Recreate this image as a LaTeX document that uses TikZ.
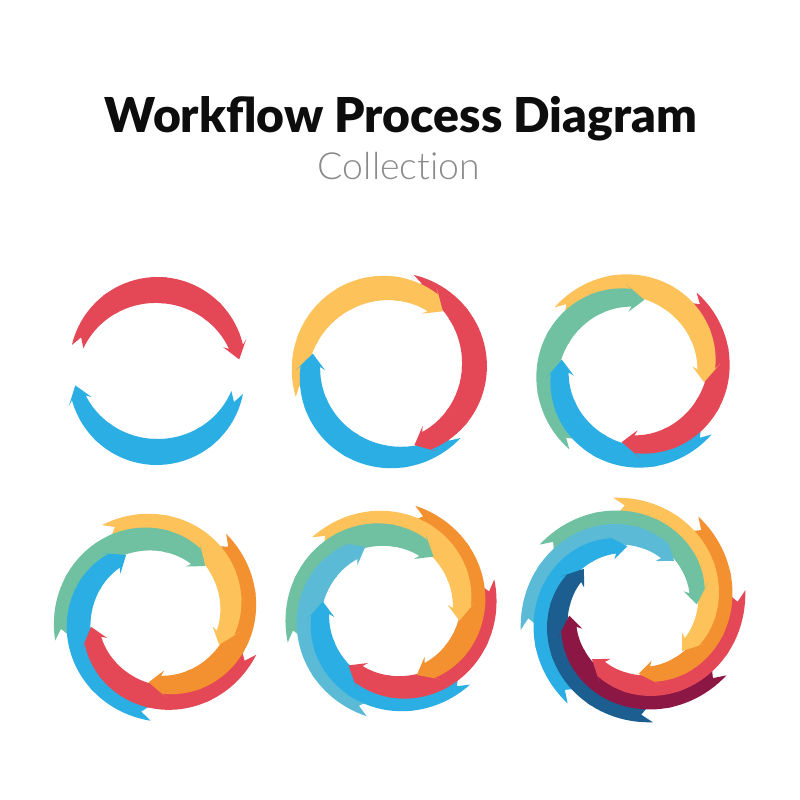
\documentclass[tikz,border=0pt]{standalone}
\usepackage{fontspec}
\setmainfont{Lato}
\newfontfamily\titlefont{Lato Black}
\newfontfamily\subfont{Lato Light}[Ligatures={NoCommon,NoContextual}]
\usepackage{graphicx}
\definecolor{cRed}{HTML}{E44856}
\definecolor{cBlue}{HTML}{2AAEE3}
\definecolor{cYellow}{HTML}{FDC25A}
\definecolor{cGreen}{HTML}{6FC1A2}
\definecolor{cOrange}{HTML}{F3902F}
\definecolor{cLBlue}{HTML}{5BBBD6}
\definecolor{cDBlue}{HTML}{1B5E8F}
\definecolor{cCrimson}{HTML}{8C1744}
\definecolor{cSub}{HTML}{8A8A8A}
\def\hlen{13}\def\nlen{10}\def\barb{5}\def\bkl{4}
\newcommand\ringgeom[9]{\def\qX{#1}\def\qY{#2}\def\qOa{#3}\def\qOb{#4}\def\qOc{#5}\def\qIa{#6}\def\qIb{#7}\def\qIc{#8}\def\qS{#9}}
\newcommand\arrowpiece[2]{%
  \pgfmathsetmacro\tH{1-\hlen*57.2958/(\qS*0.5*(\qOb+\qIb))}%
  \pgfmathsetmacro\tN{\nlen*57.2958/(\qS*0.5*(\qOa+\qIa))}%
  \ifcase#1\relax\or
    \pgfmathsetmacro\nA{cth(\tN)}\pgfmathsetmacro\nR{0.5*(\qOa+\qIa)}%
    \fill[fill=#2] plot[domain=0:0.26,samples=14,variable=\t] ({\qX+cro(\t)*cos(cth(\t))},{\qY+cro(\t)*sin(cth(\t))})
      -- plot[domain=0.26:0,samples=14,variable=\t] ({\qX+cri(\t)*cos(cth(\t))},{\qY+cri(\t)*sin(cth(\t))})
      -- ({\qX+\nR*cos(\nA)},{\qY+\nR*sin(\nA)}) -- cycle;
  \or
    \fill[fill=#2] plot[domain=0.24:0.51,samples=14,variable=\t] ({\qX+cro(\t)*cos(cth(\t))},{\qY+cro(\t)*sin(cth(\t))})
      -- plot[domain=0.51:0.24,samples=14,variable=\t] ({\qX+cri(\t)*cos(cth(\t))},{\qY+cri(\t)*sin(cth(\t))}) -- cycle;
  \or
    \fill[fill=#2] plot[domain=0.49:0.76,samples=14,variable=\t] ({\qX+cro(\t)*cos(cth(\t))},{\qY+cro(\t)*sin(cth(\t))})
      -- plot[domain=0.76:0.49,samples=14,variable=\t] ({\qX+cri(\t)*cos(cth(\t))},{\qY+cri(\t)*sin(cth(\t))}) -- cycle;
  \or
    \pgfmathsetmacro\hO{cro(\tH)+\barb}%
    \pgfmathsetmacro\hI{cri(\tH)-\barb}%
    \pgfmathsetmacro\hB{cth(\tH)+\bkl*57.2958/(0.5*(\qOb+\qIb))}%
    \pgfmathsetmacro\tipA{\qT-\qS}%
    \pgfmathsetmacro\tipR{0.5*(\qOb+\qIb)}%
    \fill[fill=#2] plot[domain=0.74:\tH,samples=14,variable=\t] ({\qX+cro(\t)*cos(cth(\t))},{\qY+cro(\t)*sin(cth(\t))})
      -- ({\qX+\hO*cos(\hB)},{\qY+\hO*sin(\hB)})
      -- ({\qX+\tipR*cos(\tipA)},{\qY+\tipR*sin(\tipA)})
      -- ({\qX+\hI*cos(\hB)},{\qY+\hI*sin(\hB)})
      -- plot[domain=\tH:0.74,samples=14,variable=\t] ({\qX+cri(\t)*cos(cth(\t))},{\qY+cri(\t)*sin(cth(\t))}) -- cycle;
  \fi}
\newcommand\ringdraw[1]{\foreach \lay in {1,2,3,4}{\foreach \qT/\col in {#1}{\arrowpiece{\lay}{\col}}}}
\begin{document}
\begin{tikzpicture}[x=1pt,y=1pt,
  declare function={
    cth(\t)=\qT-\qS*\t;
    cro(\t)=\qOa+(\qOb-\qOa)*\t+\qOc*sin(180*\t);
    cri(\t)=\qIa+(\qIb-\qIa)*\t-\qIc*sin(180*\t);
  }]
\fill[white] (0,0) rectangle (800,800);
\useasboundingbox (0,0) rectangle (800,800);
\node[anchor=base,text=black!95] (title) at (401,667) {\resizebox{592pt}{!}{\titlefont Workflow Process Diagram}};
\node[anchor=base,text=cSub] (subtitle) at (399,620) {\resizebox{162pt}{!}{\subfont Collec\kern0pt tion}};
% ring 1
\ringgeom{157}{429}{89}{89}{5}{77}{77}{9}{155}
\ringdraw{163/cRed, -15/cBlue}
% ring 2
\ringgeom{390}{430}{98}{88}{4}{86}{70}{6}{148}
\ringdraw{196/cYellow, 76/cRed, -44/cBlue}
% ring 3
\ringgeom{633}{429}{101}{80}{3}{88}{64}{6}{150}
\ringdraw{141/cYellow, 51/cRed, -39/cBlue, 231/cGreen}
% ring 4
\ringgeom{158}{185}{106}{76}{2}{90}{60}{6}{148}
\ringdraw{122/cYellow, 50/cOrange, -22/cRed, -94/cBlue, 194/cGreen}
% ring 5
\ringgeom{391}{189}{108}{77}{2}{92}{61}{6}{145}
\ringdraw{137/cYellow, 77/cOrange, 17/cRed, -43/cBlue, -103/cLBlue, 197/cGreen}
% ring 6
\ringgeom{633}{190}{114}{71}{1}{96}{57}{5}{140}
\ringdraw{100/cYellow, 55/cOrange, 10/cRed, -35/cCrimson, -80/cDBlue, -125/cBlue, -170/cLBlue, 145/cGreen}
\end{tikzpicture}
\end{document}
